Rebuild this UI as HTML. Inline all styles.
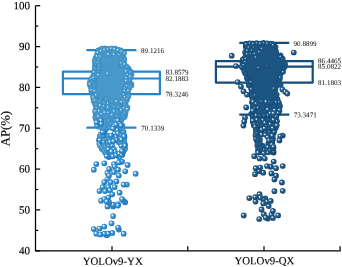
<!DOCTYPE html>
<html><head><meta charset="utf-8"><style>
html,body{margin:0;padding:0;background:#fff;}
svg{display:block;}
</style></head><body>
<svg width="342" height="267" viewBox="0 0 342 267">
<defs>
<radialGradient id="g1" cx="0.44" cy="0.44" r="0.6" fx="0.36" fy="0.36">
<stop offset="0" stop-color="#ffffff"/><stop offset="0.14" stop-color="#eef6fd"/><stop offset="0.34" stop-color="#5ca8de"/><stop offset="0.6" stop-color="#2d8acd"/><stop offset="0.85" stop-color="#2079be"/><stop offset="1" stop-color="#1866a6"/>
</radialGradient>
<radialGradient id="g2" cx="0.44" cy="0.44" r="0.6" fx="0.36" fy="0.36">
<stop offset="0" stop-color="#f4f7fa"/><stop offset="0.14" stop-color="#d5e0ea"/><stop offset="0.34" stop-color="#336b95"/><stop offset="0.6" stop-color="#1b5582"/><stop offset="0.85" stop-color="#144a75"/><stop offset="1" stop-color="#0b3457"/>
</radialGradient>
<radialGradient id="g1e" cx="0.5" cy="0.5" r="0.5" fx="0.42" fy="0.44">
<stop offset="0" stop-color="#eaf4fb"/><stop offset="0.16" stop-color="#b4d6ee"/><stop offset="0.42" stop-color="#4899ca"/><stop offset="0.85" stop-color="#4595c8"/><stop offset="1" stop-color="#3889c1"/>
</radialGradient>
<radialGradient id="g2e" cx="0.5" cy="0.5" r="0.5" fx="0.42" fy="0.44">
<stop offset="0" stop-color="#dce6ee"/><stop offset="0.16" stop-color="#8aa8c2"/><stop offset="0.42" stop-color="#1b5582"/><stop offset="0.85" stop-color="#1a5380"/><stop offset="1" stop-color="#154b76"/>
</radialGradient>
<radialGradient id="g1n" cx="0.5" cy="0.5" r="0.5" fx="0.42" fy="0.44">
<stop offset="0" stop-color="#6cb0dc"/><stop offset="0.42" stop-color="#4899ca"/><stop offset="0.85" stop-color="#4192c7"/><stop offset="1" stop-color="#3385bf"/>
</radialGradient>
<radialGradient id="g2n" cx="0.5" cy="0.5" r="0.5" fx="0.42" fy="0.44">
<stop offset="0" stop-color="#2f6690"/><stop offset="0.42" stop-color="#1b5582"/><stop offset="0.85" stop-color="#19517e"/><stop offset="1" stop-color="#134872"/>
</radialGradient>
<radialGradient id="g2f" cx="0.5" cy="0.5" r="0.5"><stop offset="0" stop-color="#1b5582"/><stop offset="0.8" stop-color="#1b5582"/><stop offset="1" stop-color="#174e79"/></radialGradient>
<radialGradient id="g1f" cx="0.5" cy="0.5" r="0.5"><stop offset="0" stop-color="#4899ca"/><stop offset="0.8" stop-color="#4899ca"/><stop offset="1" stop-color="#3f91c5"/></radialGradient>
</defs><g stroke="#2a83c5" stroke-width="2.2" stroke-linejoin="round" fill="none"><rect x="62.900000000000006" y="71.6" width="97" height="22.6"/><line x1="62.900000000000006" x2="159.9" y1="78.5" y2="78.5"/><line x1="86.4" x2="136.4" y1="50.1" y2="50.1"/><line x1="86.4" x2="136.4" y1="127.7" y2="127.7"/></g><g stroke="#164c7b" stroke-width="2.2" stroke-linejoin="round" fill="none"><rect x="215.9" y="61.1" width="96.8" height="21.5"/><line x1="215.9" x2="312.7" y1="66.6" y2="66.6"/><line x1="239.3" x2="289.3" y1="42.9" y2="42.9"/><line x1="239.3" x2="289.3" y1="114.6" y2="114.6"/></g><polygon points="105.5,46.5 101.5,48.0 98.0,50.0 95.5,53.0 94.5,55.0 93.7,60.0 93.5,65.0 92.9,70.0 92.1,75.0 88.9,80.0 88.1,85.0 89.5,90.0 91.5,95.0 91.3,97.0 92.9,103.0 93.7,108.0 93.7,113.0 93.7,118.0 94.5,123.0 122.9,123.0 125.3,118.0 127.7,113.0 129.5,108.0 126.9,103.0 130.1,97.0 129.3,95.0 130.1,90.0 133.3,85.0 131.5,80.0 133.3,75.0 131.5,70.0 127.5,65.0 126.1,60.0 124.5,55.0 123.5,53.0 122.0,50.0 118.5,48.0 114.5,46.5" fill="#4899ca"/><polygon points="245.0,41.5 244.5,43.0 244.2,45.0 244.5,50.0 244.0,53.0 243.0,55.0 241.1,60.0 240.0,65.0 241.1,70.0 244.0,75.0 246.0,80.0 247.5,85.0 248.5,88.0 249.0,90.0 250.0,95.0 250.5,100.0 251.0,107.0 250.5,112.0 249.8,118.0 251.5,123.0 278.5,123.0 278.7,118.0 280.5,112.0 281.5,107.0 279.5,100.0 278.0,95.0 277.5,90.0 278.5,88.0 282.5,85.0 281.5,80.0 282.0,75.0 286.0,70.0 287.0,65.0 285.5,60.0 282.5,55.0 278.0,53.0 277.7,50.0 277.5,45.0 275.0,43.0 272.5,41.5" fill="#1b5582"/><circle cx="95.7" cy="57.7" r="2.75" fill="url(#g1n)"/><circle cx="131.4" cy="84.2" r="2.75" fill="url(#g1e)"/><circle cx="121.8" cy="52.9" r="2.75" fill="url(#g1e)"/><circle cx="126.5" cy="99.0" r="2.75" fill="url(#g1e)"/><circle cx="120.8" cy="60.3" r="2.75" fill="url(#g1n)"/><circle cx="95.1" cy="66.5" r="2.75" fill="url(#g1e)"/><circle cx="131.5" cy="85.5" r="2.75" fill="url(#g1n)"/><circle cx="125.3" cy="88.4" r="2.75" fill="url(#g1e)"/><circle cx="122.8" cy="105.5" r="2.75" fill="url(#g1n)"/><circle cx="130.9" cy="83.7" r="2.75" fill="url(#g1n)"/><circle cx="124.1" cy="67.6" r="2.75" fill="url(#g1n)"/><circle cx="96.5" cy="109.4" r="2.75" fill="url(#g1e)"/><circle cx="95.4" cy="113.1" r="2.75" fill="url(#g1e)"/><circle cx="126.3" cy="93.9" r="2.75" fill="url(#g1e)"/><circle cx="96.8" cy="99.6" r="2.75" fill="url(#g1n)"/><circle cx="95.8" cy="106.9" r="2.75" fill="url(#g1e)"/><circle cx="93.1" cy="94.5" r="2.75" fill="url(#g1e)"/><circle cx="120.6" cy="116.1" r="2.75" fill="url(#g1n)"/><circle cx="94.9" cy="63.7" r="2.75" fill="url(#g1e)"/><circle cx="95.6" cy="73.0" r="2.75" fill="url(#g1e)"/><circle cx="129.3" cy="88.3" r="2.75" fill="url(#g1e)"/><circle cx="96.6" cy="107.5" r="2.75" fill="url(#g1e)"/><circle cx="125.0" cy="102.5" r="2.75" fill="url(#g1n)"/><circle cx="127.2" cy="85.7" r="2.75" fill="url(#g1e)"/><circle cx="91.2" cy="91.1" r="2.75" fill="url(#g1n)"/><circle cx="94.3" cy="101.0" r="2.75" fill="url(#g1e)"/><circle cx="98.7" cy="112.5" r="2.75" fill="url(#g1e)"/><circle cx="125.9" cy="109.6" r="2.75" fill="url(#g1e)"/><circle cx="123.4" cy="61.7" r="2.75" fill="url(#g1n)"/><circle cx="125.9" cy="109.6" r="2.75" fill="url(#g1e)"/><circle cx="123.7" cy="61.6" r="2.75" fill="url(#g1e)"/><circle cx="95.7" cy="104.1" r="2.75" fill="url(#g1e)"/><circle cx="98.3" cy="50.2" r="2.75" fill="url(#g1e)"/><circle cx="126.7" cy="100.5" r="2.75" fill="url(#g1n)"/><circle cx="125.5" cy="112.8" r="2.75" fill="url(#g1e)"/><circle cx="124.9" cy="116.1" r="2.75" fill="url(#g1e)"/><circle cx="89.6" cy="84.6" r="2.75" fill="url(#g1e)"/><circle cx="123.4" cy="99.3" r="2.75" fill="url(#g1e)"/><circle cx="99.9" cy="50.3" r="2.75" fill="url(#g1e)"/><circle cx="128.8" cy="68.8" r="2.75" fill="url(#g1n)"/><circle cx="125.1" cy="114.5" r="2.75" fill="url(#g1e)"/><circle cx="97.0" cy="54.7" r="2.75" fill="url(#g1n)"/><circle cx="114.8" cy="48.4" r="2.75" fill="url(#g1e)"/><circle cx="95.0" cy="70.4" r="2.75" fill="url(#g1e)"/><circle cx="96.4" cy="119.5" r="2.75" fill="url(#g1e)"/><circle cx="96.8" cy="115.2" r="2.75" fill="url(#g1n)"/><circle cx="96.0" cy="69.1" r="2.75" fill="url(#g1n)"/><circle cx="123.0" cy="58.0" r="2.75" fill="url(#g1e)"/><circle cx="118.1" cy="50.0" r="2.75" fill="url(#g1n)"/><circle cx="93.3" cy="75.4" r="2.75" fill="url(#g1e)"/><circle cx="124.7" cy="90.9" r="2.75" fill="url(#g1e)"/><circle cx="93.9" cy="93.7" r="2.75" fill="url(#g1n)"/><circle cx="98.7" cy="52.7" r="2.75" fill="url(#g1e)"/><circle cx="123.9" cy="64.8" r="2.75" fill="url(#g1e)"/><circle cx="128.3" cy="69.7" r="2.75" fill="url(#g1n)"/><circle cx="111.3" cy="52.1" r="2.75" fill="url(#g1n)"/><circle cx="94.7" cy="97.6" r="2.75" fill="url(#g1e)"/><circle cx="95.0" cy="60.5" r="2.75" fill="url(#g1e)"/><circle cx="123.3" cy="55.8" r="2.75" fill="url(#g1e)"/><circle cx="96.3" cy="64.5" r="2.75" fill="url(#g1e)"/><circle cx="100.2" cy="51.4" r="2.75" fill="url(#g1e)"/><circle cx="93.2" cy="96.2" r="2.75" fill="url(#g1e)"/><circle cx="124.3" cy="116.7" r="2.75" fill="url(#g1e)"/><circle cx="90.5" cy="86.5" r="2.75" fill="url(#g1e)"/><circle cx="129.0" cy="77.5" r="2.75" fill="url(#g1e)"/><circle cx="98.5" cy="71.1" r="2.75" fill="url(#g1n)"/><circle cx="131.6" cy="74.8" r="2.75" fill="url(#g1e)"/><circle cx="91.0" cy="87.6" r="2.75" fill="url(#g1e)"/><circle cx="128.4" cy="96.2" r="2.75" fill="url(#g1e)"/><circle cx="96.7" cy="57.5" r="2.75" fill="url(#g1e)"/><circle cx="126.3" cy="94.1" r="2.75" fill="url(#g1e)"/><circle cx="91.4" cy="82.9" r="2.75" fill="url(#g1e)"/><circle cx="96.5" cy="119.6" r="2.75" fill="url(#g1e)"/><circle cx="123.7" cy="94.6" r="2.75" fill="url(#g1e)"/><circle cx="94.8" cy="66.9" r="2.75" fill="url(#g1e)"/><circle cx="116.2" cy="52.5" r="2.75" fill="url(#g1e)"/><circle cx="92.0" cy="77.9" r="2.75" fill="url(#g1n)"/><circle cx="95.4" cy="58.9" r="2.75" fill="url(#g1n)"/><circle cx="105.0" cy="53.7" r="2.75" fill="url(#g1e)"/><circle cx="93.5" cy="101.0" r="2.75" fill="url(#g1e)"/><circle cx="130.0" cy="86.8" r="2.75" fill="url(#g1n)"/><circle cx="92.3" cy="91.1" r="2.75" fill="url(#g1e)"/><circle cx="121.4" cy="119.7" r="2.75" fill="url(#g1e)"/><circle cx="125.7" cy="105.0" r="2.75" fill="url(#g1e)"/><circle cx="96.3" cy="77.6" r="2.75" fill="url(#g1n)"/><circle cx="92.8" cy="88.2" r="2.75" fill="url(#g1e)"/><circle cx="127.6" cy="91.9" r="2.75" fill="url(#g1n)"/><circle cx="128.2" cy="91.0" r="2.75" fill="url(#g1e)"/><circle cx="128.4" cy="70.4" r="2.75" fill="url(#g1e)"/><circle cx="125.0" cy="97.1" r="2.75" fill="url(#g1e)"/><circle cx="121.7" cy="119.2" r="2.75" fill="url(#g1n)"/><circle cx="110.0" cy="50.9" r="2.75" fill="url(#g1e)"/><circle cx="123.8" cy="58.4" r="2.75" fill="url(#g1n)"/><circle cx="94.7" cy="103.4" r="2.75" fill="url(#g1e)"/><circle cx="124.3" cy="58.9" r="2.75" fill="url(#g1n)"/><circle cx="130.3" cy="74.0" r="2.75" fill="url(#g1n)"/><circle cx="121.5" cy="57.7" r="2.75" fill="url(#g1e)"/><circle cx="130.9" cy="71.8" r="2.75" fill="url(#g1e)"/><circle cx="125.5" cy="112.4" r="2.75" fill="url(#g1e)"/><circle cx="89.8" cy="81.9" r="2.75" fill="url(#g1e)"/><circle cx="121.1" cy="63.4" r="2.75" fill="url(#g1e)"/><circle cx="126.9" cy="67.4" r="2.75" fill="url(#g1e)"/><circle cx="98.6" cy="58.7" r="2.75" fill="url(#g1e)"/><circle cx="130.6" cy="78.1" r="2.75" fill="url(#g1e)"/><circle cx="99.5" cy="63.4" r="2.75" fill="url(#g1n)"/><circle cx="107.5" cy="73.4" r="2.75" fill="url(#g1e)"/><circle cx="127.4" cy="98.5" r="2.75" fill="url(#g1e)"/><circle cx="96.9" cy="114.8" r="2.75" fill="url(#g1n)"/><circle cx="128.9" cy="83.1" r="2.75" fill="url(#g1e)"/><circle cx="95.9" cy="94.9" r="2.75" fill="url(#g1e)"/><circle cx="113.7" cy="51.0" r="2.75" fill="url(#g1e)"/><circle cx="125.2" cy="102.3" r="2.75" fill="url(#g1e)"/><circle cx="95.2" cy="117.3" r="2.75" fill="url(#g1n)"/><circle cx="105.1" cy="51.1" r="2.75" fill="url(#g1e)"/><circle cx="122.1" cy="55.4" r="2.75" fill="url(#g1e)"/><circle cx="120.3" cy="122.3" r="2.75" fill="url(#g1e)"/><circle cx="99.6" cy="115.3" r="2.75" fill="url(#g1e)"/><circle cx="126.4" cy="77.9" r="2.75" fill="url(#g1e)"/><circle cx="122.5" cy="102.9" r="2.75" fill="url(#g1e)"/><circle cx="94.6" cy="79.7" r="2.75" fill="url(#g1e)"/><circle cx="109.2" cy="49.8" r="2.75" fill="url(#g1e)"/><circle cx="98.1" cy="74.8" r="2.75" fill="url(#g1e)"/><circle cx="127.4" cy="74.4" r="2.75" fill="url(#g1e)"/><circle cx="122.2" cy="65.7" r="2.75" fill="url(#g1n)"/><circle cx="95.6" cy="112.0" r="2.75" fill="url(#g1e)"/><circle cx="94.2" cy="85.7" r="2.75" fill="url(#g1n)"/><circle cx="98.2" cy="54.4" r="2.75" fill="url(#g1e)"/><circle cx="93.8" cy="78.9" r="2.75" fill="url(#g1n)"/><circle cx="113.8" cy="54.4" r="2.75" fill="url(#g1e)"/><circle cx="120.8" cy="50.3" r="2.75" fill="url(#g1n)"/><circle cx="129.4" cy="81.4" r="2.75" fill="url(#g1n)"/><circle cx="119.0" cy="54.3" r="2.75" fill="url(#g1e)"/><circle cx="101.3" cy="49.0" r="2.75" fill="url(#g1n)"/><circle cx="100.1" cy="56.2" r="2.75" fill="url(#g1e)"/><circle cx="91.2" cy="79.0" r="2.75" fill="url(#g1e)"/><circle cx="98.9" cy="104.9" r="2.75" fill="url(#g1e)"/><circle cx="94.2" cy="82.8" r="2.75" fill="url(#g1n)"/><circle cx="116.1" cy="49.0" r="2.75" fill="url(#g1e)"/><circle cx="122.4" cy="113.9" r="2.75" fill="url(#g1n)"/><circle cx="99.2" cy="121.1" r="2.75" fill="url(#g1e)"/><circle cx="128.3" cy="95.9" r="2.75" fill="url(#g1n)"/><circle cx="108.6" cy="49.9" r="2.75" fill="url(#g1e)"/><circle cx="97.6" cy="62.2" r="2.75" fill="url(#g1e)"/><circle cx="104.0" cy="49.0" r="2.75" fill="url(#g1e)"/><circle cx="126.0" cy="71.0" r="2.75" fill="url(#g1e)"/><circle cx="124.4" cy="117.3" r="2.75" fill="url(#g1n)"/><circle cx="98.8" cy="67.9" r="2.75" fill="url(#g1e)"/><circle cx="96.3" cy="120.4" r="2.75" fill="url(#g1n)"/><circle cx="99.1" cy="65.3" r="2.75" fill="url(#g1n)"/><circle cx="94.7" cy="60.9" r="2.75" fill="url(#g1n)"/><circle cx="91.6" cy="82.1" r="2.75" fill="url(#g1n)"/><circle cx="93.9" cy="72.0" r="2.75" fill="url(#g1e)"/><circle cx="93.7" cy="76.6" r="2.75" fill="url(#g1e)"/><circle cx="130.2" cy="76.4" r="2.75" fill="url(#g1e)"/><circle cx="93.5" cy="77.6" r="2.75" fill="url(#g1e)"/><circle cx="124.5" cy="64.2" r="2.75" fill="url(#g1e)"/><circle cx="102.2" cy="48.6" r="2.75" fill="url(#g1e)"/><circle cx="126.9" cy="66.7" r="2.75" fill="url(#g1n)"/><circle cx="127.5" cy="107.6" r="2.75" fill="url(#g1e)"/><circle cx="94.9" cy="68.3" r="2.75" fill="url(#g1n)"/><circle cx="123.2" cy="111.1" r="2.75" fill="url(#g1n)"/><circle cx="99.4" cy="109.6" r="2.75" fill="url(#g1n)"/><circle cx="89.7" cy="84.0" r="2.75" fill="url(#g1e)"/><circle cx="118.0" cy="49.9" r="2.75" fill="url(#g1e)"/><circle cx="91.6" cy="90.0" r="2.75" fill="url(#g1e)"/><circle cx="96.4" cy="111.7" r="2.75" fill="url(#g1n)"/><circle cx="96.0" cy="117.3" r="2.75" fill="url(#g1n)"/><circle cx="120.1" cy="51.4" r="2.75" fill="url(#g1e)"/><circle cx="96.9" cy="56.1" r="2.75" fill="url(#g1e)"/><circle cx="94.4" cy="90.7" r="2.75" fill="url(#g1e)"/><circle cx="122.3" cy="53.4" r="2.75" fill="url(#g1e)"/><circle cx="96.7" cy="110.4" r="2.75" fill="url(#g1e)"/><circle cx="125.0" cy="104.9" r="2.75" fill="url(#g1e)"/><circle cx="112.1" cy="48.4" r="2.75" fill="url(#g1n)"/><circle cx="99.4" cy="118.3" r="2.75" fill="url(#g1e)"/><circle cx="130.2" cy="72.0" r="2.75" fill="url(#g1n)"/><circle cx="104.7" cy="48.2" r="2.75" fill="url(#g1e)"/><circle cx="118.2" cy="120.6" r="2.75" fill="url(#g1e)"/><circle cx="95.7" cy="104.3" r="2.75" fill="url(#g1e)"/><circle cx="102.3" cy="52.5" r="2.75" fill="url(#g1e)"/><circle cx="126.8" cy="107.9" r="2.75" fill="url(#g1e)"/><circle cx="123.7" cy="108.1" r="2.75" fill="url(#g1e)"/><circle cx="129.3" cy="80.3" r="2.75" fill="url(#g1n)"/><circle cx="93.0" cy="97.4" r="2.75" fill="url(#g1e)"/><circle cx="125.9" cy="80.7" r="2.75" fill="url(#g1e)"/><circle cx="128.3" cy="90.6" r="2.75" fill="url(#g1e)"/><circle cx="108.2" cy="54.0" r="2.75" fill="url(#g1e)"/><circle cx="98.1" cy="101.9" r="2.75" fill="url(#g1e)"/><circle cx="120.9" cy="109.8" r="2.75" fill="url(#g1e)"/><circle cx="121.4" cy="101.9" r="2.75" fill="url(#g1e)"/><circle cx="123.1" cy="116.1" r="2.75" fill="url(#g1n)"/><circle cx="107.7" cy="103.4" r="2.75" fill="url(#g1e)"/><circle cx="95.0" cy="111.0" r="2.75" fill="url(#g1e)"/><circle cx="124.6" cy="102.0" r="2.75" fill="url(#g1n)"/><circle cx="116.8" cy="115.9" r="2.75" fill="url(#g1n)"/><circle cx="117.3" cy="111.7" r="2.75" fill="url(#g1n)"/><circle cx="94.5" cy="100.2" r="2.75" fill="url(#g1e)"/><circle cx="118.0" cy="107.0" r="2.75" fill="url(#g1n)"/><circle cx="107.8" cy="112.6" r="2.75" fill="url(#g1e)"/><circle cx="124.2" cy="112.9" r="2.75" fill="url(#g1n)"/><circle cx="101.3" cy="113.8" r="2.75" fill="url(#g1e)"/><circle cx="106.2" cy="98.7" r="2.75" fill="url(#g1n)"/><circle cx="113.9" cy="111.1" r="2.75" fill="url(#g1e)"/><circle cx="96.1" cy="104.2" r="2.75" fill="url(#g1n)"/><circle cx="127.1" cy="108.9" r="2.75" fill="url(#g1e)"/><circle cx="100.2" cy="100.9" r="2.75" fill="url(#g1n)"/><circle cx="111.8" cy="114.7" r="2.75" fill="url(#g1e)"/><circle cx="103.5" cy="106.1" r="2.75" fill="url(#g1e)"/><circle cx="112.0" cy="101.2" r="2.75" fill="url(#g1n)"/><circle cx="98.2" cy="116.3" r="2.75" fill="url(#g1e)"/><circle cx="107.8" cy="107.2" r="2.75" fill="url(#g1e)"/><circle cx="116.4" cy="101.1" r="2.75" fill="url(#g1e)"/><circle cx="102.1" cy="109.2" r="2.75" fill="url(#g1n)"/><circle cx="104.0" cy="102.3" r="2.75" fill="url(#g1n)"/><circle cx="113.9" cy="106.7" r="2.75" fill="url(#g1n)"/><circle cx="104.4" cy="112.3" r="2.75" fill="url(#g1e)"/><circle cx="98.9" cy="110.8" r="2.75" fill="url(#g1e)"/><circle cx="99.9" cy="105.2" r="2.75" fill="url(#g1e)"/><circle cx="278.9" cy="104.1" r="2.75" fill="url(#g2f)"/><circle cx="275.6" cy="47.2" r="2.75" fill="url(#g2f)"/><circle cx="280.6" cy="55.3" r="2.75" fill="url(#g2f)"/><circle cx="278.3" cy="102.3" r="2.75" fill="url(#g2f)"/><circle cx="280.7" cy="84.9" r="2.75" fill="url(#g2f)"/><circle cx="275.4" cy="118.4" r="2.75" fill="url(#g2e)"/><circle cx="283.3" cy="61.5" r="2.75" fill="url(#g2f)"/><circle cx="275.8" cy="50.8" r="2.75" fill="url(#g2f)"/><circle cx="275.8" cy="96.3" r="2.75" fill="url(#g2f)"/><circle cx="280.9" cy="72.6" r="2.75" fill="url(#g2f)"/><circle cx="280.3" cy="74.7" r="2.75" fill="url(#g2f)"/><circle cx="278.5" cy="82.6" r="2.75" fill="url(#g2f)"/><circle cx="278.4" cy="111.1" r="2.75" fill="url(#g2f)"/><circle cx="279.8" cy="79.2" r="2.75" fill="url(#g2f)"/><circle cx="275.4" cy="90.8" r="2.75" fill="url(#g2f)"/><circle cx="284.6" cy="67.2" r="2.75" fill="url(#g2f)"/><circle cx="279.0" cy="108.4" r="2.75" fill="url(#g2f)"/><circle cx="282.8" cy="69.1" r="2.75" fill="url(#g2f)"/><circle cx="277.7" cy="100.6" r="2.75" fill="url(#g2f)"/><circle cx="274.3" cy="47.6" r="2.75" fill="url(#g2f)"/><circle cx="276.8" cy="94.4" r="2.75" fill="url(#g2f)"/><circle cx="278.8" cy="83.4" r="2.75" fill="url(#g2f)"/><circle cx="276.7" cy="120.8" r="2.75" fill="url(#g2e)"/><circle cx="276.4" cy="115.5" r="2.75" fill="url(#g2e)"/><circle cx="284.7" cy="63.1" r="2.75" fill="url(#g2e)"/><circle cx="280.0" cy="77.4" r="2.75" fill="url(#g2e)"/><circle cx="275.6" cy="87.5" r="2.75" fill="url(#g2f)"/><circle cx="282.7" cy="58.5" r="2.75" fill="url(#g2e)"/><circle cx="274.2" cy="91.4" r="2.75" fill="url(#g2f)"/><circle cx="277.4" cy="98.8" r="2.75" fill="url(#g2f)"/><circle cx="280.5" cy="56.7" r="2.75" fill="url(#g2e)"/><circle cx="274.1" cy="45.0" r="2.75" fill="url(#g2f)"/><circle cx="283.1" cy="71.9" r="2.75" fill="url(#g2e)"/><circle cx="279.9" cy="106.7" r="2.75" fill="url(#g2f)"/><circle cx="276.2" cy="52.3" r="2.75" fill="url(#g2f)"/><circle cx="273.0" cy="44.0" r="2.75" fill="url(#g2f)"/><circle cx="278.8" cy="111.9" r="2.75" fill="url(#g2f)"/><circle cx="285.2" cy="64.4" r="2.75" fill="url(#g2f)"/><circle cx="248.0" cy="79.5" r="2.75" fill="url(#g2e)"/><circle cx="254.0" cy="103.6" r="2.75" fill="url(#g2e)"/><circle cx="273.6" cy="88.3" r="2.75" fill="url(#g2e)"/><circle cx="251.9" cy="96.8" r="2.75" fill="url(#g2n)"/><circle cx="253.9" cy="45.6" r="2.75" fill="url(#g2e)"/><circle cx="248.9" cy="81.0" r="2.75" fill="url(#g2n)"/><circle cx="251.8" cy="48.4" r="2.75" fill="url(#g2e)"/><circle cx="244.3" cy="71.4" r="2.75" fill="url(#g2e)"/><circle cx="248.5" cy="83.3" r="2.75" fill="url(#g2e)"/><circle cx="251.5" cy="90.6" r="2.75" fill="url(#g2e)"/><circle cx="254.5" cy="95.1" r="2.75" fill="url(#g2e)"/><circle cx="259.7" cy="46.5" r="2.75" fill="url(#g2n)"/><circle cx="250.7" cy="81.8" r="2.75" fill="url(#g2e)"/><circle cx="266.6" cy="65.9" r="2.75" fill="url(#g2n)"/><circle cx="242.1" cy="61.7" r="2.75" fill="url(#g2e)"/><circle cx="247.2" cy="45.8" r="2.75" fill="url(#g2n)"/><circle cx="253.5" cy="113.2" r="2.75" fill="url(#g2n)"/><circle cx="252.9" cy="100.0" r="2.75" fill="url(#g2e)"/><circle cx="251.2" cy="113.8" r="2.75" fill="url(#g2n)"/><circle cx="245.8" cy="51.3" r="2.75" fill="url(#g2e)"/><circle cx="247.6" cy="77.2" r="2.75" fill="url(#g2e)"/><circle cx="251.8" cy="44.2" r="2.75" fill="url(#g2e)"/><circle cx="251.1" cy="93.9" r="2.75" fill="url(#g2n)"/><circle cx="250.1" cy="53.4" r="2.75" fill="url(#g2e)"/><circle cx="246.4" cy="44.3" r="2.75" fill="url(#g2n)"/><circle cx="246.6" cy="44.2" r="2.75" fill="url(#g2e)"/><circle cx="253.6" cy="47.2" r="2.75" fill="url(#g2e)"/><circle cx="259.6" cy="43.8" r="2.75" fill="url(#g2n)"/><circle cx="252.9" cy="108.4" r="2.75" fill="url(#g2e)"/><circle cx="259.8" cy="48.0" r="2.75" fill="url(#g2e)"/><circle cx="246.2" cy="55.5" r="2.75" fill="url(#g2e)"/><circle cx="254.4" cy="112.8" r="2.75" fill="url(#g2e)"/><circle cx="247.1" cy="77.5" r="2.75" fill="url(#g2e)"/><circle cx="251.8" cy="102.4" r="2.75" fill="url(#g2n)"/><circle cx="242.8" cy="60.0" r="2.75" fill="url(#g2n)"/><circle cx="246.1" cy="47.6" r="2.75" fill="url(#g2n)"/><circle cx="251.6" cy="50.1" r="2.75" fill="url(#g2e)"/><circle cx="243.7" cy="62.2" r="2.75" fill="url(#g2n)"/><circle cx="256.6" cy="46.9" r="2.75" fill="url(#g2n)"/><circle cx="252.7" cy="121.9" r="2.75" fill="url(#g2e)"/><circle cx="247.9" cy="50.5" r="2.75" fill="url(#g2e)"/><circle cx="256.3" cy="45.5" r="2.75" fill="url(#g2n)"/><circle cx="242.8" cy="59.3" r="2.75" fill="url(#g2e)"/><circle cx="253.1" cy="116.9" r="2.75" fill="url(#g2e)"/><circle cx="251.7" cy="87.1" r="2.75" fill="url(#g2e)"/><circle cx="261.7" cy="48.6" r="2.75" fill="url(#g2e)"/><circle cx="242.6" cy="67.9" r="2.75" fill="url(#g2e)"/><circle cx="250.9" cy="86.7" r="2.75" fill="url(#g2n)"/><circle cx="253.4" cy="104.3" r="2.75" fill="url(#g2n)"/><circle cx="256.1" cy="50.4" r="2.75" fill="url(#g2n)"/><circle cx="258.3" cy="67.7" r="2.75" fill="url(#g2e)"/><circle cx="254.0" cy="107.2" r="2.75" fill="url(#g2n)"/><circle cx="253.2" cy="119.5" r="2.75" fill="url(#g2e)"/><circle cx="250.1" cy="46.7" r="2.75" fill="url(#g2n)"/><circle cx="251.2" cy="88.9" r="2.75" fill="url(#g2e)"/><circle cx="246.9" cy="78.5" r="2.75" fill="url(#g2n)"/><circle cx="245.7" cy="46.5" r="2.75" fill="url(#g2e)"/><circle cx="242.7" cy="65.5" r="2.75" fill="url(#g2e)"/><circle cx="241.5" cy="66.8" r="2.75" fill="url(#g2e)"/><circle cx="248.7" cy="85.5" r="2.75" fill="url(#g2n)"/><circle cx="252.4" cy="99.3" r="2.75" fill="url(#g2e)"/><circle cx="245.2" cy="61.8" r="2.75" fill="url(#g2e)"/><circle cx="246.7" cy="48.2" r="2.75" fill="url(#g2n)"/><circle cx="245.8" cy="44.0" r="2.75" fill="url(#g2n)"/><circle cx="253.1" cy="112.3" r="2.75" fill="url(#g2e)"/><circle cx="259.2" cy="51.8" r="2.75" fill="url(#g2e)"/><circle cx="245.1" cy="73.4" r="2.75" fill="url(#g2n)"/><circle cx="245.0" cy="52.4" r="2.75" fill="url(#g2n)"/><circle cx="243.4" cy="64.8" r="2.75" fill="url(#g2e)"/><circle cx="253.3" cy="117.4" r="2.75" fill="url(#g2e)"/><circle cx="253.4" cy="108.4" r="2.75" fill="url(#g2e)"/><circle cx="248.5" cy="47.1" r="2.75" fill="url(#g2e)"/><circle cx="254.6" cy="53.6" r="2.75" fill="url(#g2e)"/><circle cx="245.6" cy="56.9" r="2.75" fill="url(#g2e)"/><circle cx="252.9" cy="106.5" r="2.75" fill="url(#g2e)"/><circle cx="253.7" cy="120.2" r="2.75" fill="url(#g2e)"/><circle cx="251.9" cy="43.4" r="2.75" fill="url(#g2e)"/><circle cx="246.9" cy="53.9" r="2.75" fill="url(#g2e)"/><circle cx="247.2" cy="50.4" r="2.75" fill="url(#g2e)"/><circle cx="255.6" cy="57.2" r="2.75" fill="url(#g2e)"/><circle cx="251.8" cy="96.2" r="2.75" fill="url(#g2n)"/><circle cx="245.5" cy="58.6" r="2.75" fill="url(#g2e)"/><circle cx="271.4" cy="110.1" r="2.75" fill="url(#g2)"/><circle cx="261.0" cy="102.0" r="2.75" fill="url(#g2)"/><circle cx="269.8" cy="107.4" r="2.75" fill="url(#g2n)"/><circle cx="277.6" cy="107.8" r="2.75" fill="url(#g2n)"/><circle cx="279.5" cy="110.4" r="2.75" fill="url(#g2)"/><circle cx="278.1" cy="113.1" r="2.75" fill="url(#g2)"/><circle cx="278.8" cy="102.6" r="2.75" fill="url(#g2)"/><circle cx="257.9" cy="101.7" r="2.75" fill="url(#g2n)"/><circle cx="253.1" cy="101.9" r="2.75" fill="url(#g2)"/><circle cx="263.6" cy="105.0" r="2.75" fill="url(#g2n)"/><circle cx="259.0" cy="115.8" r="2.75" fill="url(#g2)"/><circle cx="267.6" cy="109.6" r="2.75" fill="url(#g2)"/><circle cx="275.7" cy="102.5" r="2.75" fill="url(#g2)"/><circle cx="256.1" cy="112.2" r="2.75" fill="url(#g2n)"/><circle cx="254.7" cy="107.6" r="2.75" fill="url(#g2)"/><circle cx="258.2" cy="107.6" r="2.75" fill="url(#g2)"/><circle cx="266.6" cy="105.1" r="2.75" fill="url(#g2n)"/><circle cx="272.1" cy="116.1" r="2.75" fill="url(#g2n)"/><circle cx="269.2" cy="102.5" r="2.75" fill="url(#g2)"/><circle cx="276.1" cy="116.3" r="2.75" fill="url(#g2)"/><circle cx="274.7" cy="110.3" r="2.75" fill="url(#g2)"/><circle cx="259.2" cy="110.4" r="2.75" fill="url(#g2n)"/><circle cx="252.7" cy="110.7" r="2.75" fill="url(#g2)"/><circle cx="256.0" cy="104.0" r="2.75" fill="url(#g2)"/><circle cx="267.7" cy="115.3" r="2.75" fill="url(#g2)"/><circle cx="270.3" cy="113.3" r="2.75" fill="url(#g2)"/><circle cx="266.1" cy="101.8" r="2.75" fill="url(#g2)"/><circle cx="273.5" cy="113.5" r="2.75" fill="url(#g2)"/><circle cx="252.8" cy="105.0" r="2.75" fill="url(#g2n)"/><circle cx="264.2" cy="115.1" r="2.75" fill="url(#g2)"/><circle cx="259.9" cy="105.1" r="2.75" fill="url(#g2n)"/><circle cx="272.5" cy="102.4" r="2.75" fill="url(#g2n)"/><circle cx="274.4" cy="106.1" r="2.75" fill="url(#g2n)"/><circle cx="279.8" cy="105.6" r="2.75" fill="url(#g2n)"/><circle cx="256.0" cy="115.5" r="2.75" fill="url(#g2)"/><circle cx="262.5" cy="108.2" r="2.75" fill="url(#g2n)"/><circle cx="264.9" cy="111.9" r="2.75" fill="url(#g2n)"/><circle cx="252.4" cy="116.1" r="2.75" fill="url(#g2n)"/><circle cx="261.7" cy="112.4" r="2.75" fill="url(#g2n)"/><circle cx="108.7" cy="145.3" r="2.75" fill="url(#g1)"/><circle cx="105.9" cy="129.4" r="2.75" fill="url(#g1)"/><circle cx="122.4" cy="130.6" r="2.75" fill="url(#g1)"/><circle cx="125.1" cy="144.6" r="2.75" fill="url(#g1n)"/><circle cx="118.9" cy="157.3" r="2.75" fill="url(#g1)"/><circle cx="120.2" cy="127.8" r="2.75" fill="url(#g1)"/><circle cx="117.3" cy="130.1" r="2.75" fill="url(#g1)"/><circle cx="105.9" cy="138.8" r="2.75" fill="url(#g1n)"/><circle cx="106.8" cy="142.6" r="2.75" fill="url(#g1n)"/><circle cx="109.5" cy="138.8" r="2.75" fill="url(#g1n)"/><circle cx="114.0" cy="148.9" r="2.75" fill="url(#g1)"/><circle cx="121.2" cy="145.8" r="2.75" fill="url(#g1)"/><circle cx="104.6" cy="122.2" r="2.75" fill="url(#g1n)"/><circle cx="123.6" cy="132.1" r="2.75" fill="url(#g1)"/><circle cx="98.8" cy="140.0" r="2.75" fill="url(#g1)"/><circle cx="99.6" cy="126.3" r="2.75" fill="url(#g1n)"/><circle cx="122.5" cy="125.5" r="2.75" fill="url(#g1n)"/><circle cx="103.4" cy="142.4" r="2.75" fill="url(#g1)"/><circle cx="102.7" cy="129.2" r="2.75" fill="url(#g1)"/><circle cx="107.3" cy="124.5" r="2.75" fill="url(#g1n)"/><circle cx="124.6" cy="137.1" r="2.75" fill="url(#g1n)"/><circle cx="114.6" cy="120.3" r="2.75" fill="url(#g1n)"/><circle cx="124.0" cy="138.7" r="2.75" fill="url(#g1)"/><circle cx="124.3" cy="141.5" r="2.75" fill="url(#g1)"/><circle cx="99.1" cy="127.0" r="2.75" fill="url(#g1n)"/><circle cx="122.3" cy="155.1" r="2.75" fill="url(#g1)"/><circle cx="99.8" cy="136.5" r="2.75" fill="url(#g1n)"/><circle cx="113.1" cy="137.9" r="2.75" fill="url(#g1)"/><circle cx="119.7" cy="156.9" r="2.75" fill="url(#g1n)"/><circle cx="121.0" cy="120.8" r="2.75" fill="url(#g1n)"/><circle cx="97.0" cy="125.5" r="2.75" fill="url(#g1)"/><circle cx="112.0" cy="145.6" r="2.75" fill="url(#g1)"/><circle cx="110.5" cy="123.5" r="2.75" fill="url(#g1n)"/><circle cx="101.7" cy="149.0" r="2.75" fill="url(#g1)"/><circle cx="109.5" cy="157.0" r="2.75" fill="url(#g1)"/><circle cx="101.1" cy="120.5" r="2.75" fill="url(#g1)"/><circle cx="124.1" cy="141.2" r="2.75" fill="url(#g1n)"/><circle cx="103.4" cy="129.2" r="2.75" fill="url(#g1n)"/><circle cx="112.8" cy="156.4" r="2.75" fill="url(#g1)"/><circle cx="100.0" cy="143.5" r="2.75" fill="url(#g1n)"/><circle cx="117.8" cy="120.6" r="2.75" fill="url(#g1)"/><circle cx="115.0" cy="151.9" r="2.75" fill="url(#g1)"/><circle cx="121.4" cy="139.6" r="2.75" fill="url(#g1)"/><circle cx="104.0" cy="125.7" r="2.75" fill="url(#g1n)"/><circle cx="122.6" cy="129.1" r="2.75" fill="url(#g1n)"/><circle cx="116.0" cy="155.2" r="2.75" fill="url(#g1)"/><circle cx="107.2" cy="154.5" r="2.75" fill="url(#g1)"/><circle cx="119.3" cy="153.6" r="2.75" fill="url(#g1)"/><circle cx="99.5" cy="139.1" r="2.75" fill="url(#g1)"/><circle cx="124.5" cy="149.8" r="2.75" fill="url(#g1n)"/><circle cx="101.3" cy="123.8" r="2.75" fill="url(#g1)"/><circle cx="107.8" cy="135.5" r="2.75" fill="url(#g1n)"/><circle cx="124.1" cy="135.2" r="2.75" fill="url(#g1)"/><circle cx="99.2" cy="143.5" r="2.75" fill="url(#g1)"/><circle cx="121.5" cy="127.3" r="2.75" fill="url(#g1n)"/><circle cx="124.5" cy="145.4" r="2.75" fill="url(#g1)"/><circle cx="121.8" cy="154.8" r="2.75" fill="url(#g1)"/><circle cx="104.3" cy="132.2" r="2.75" fill="url(#g1)"/><circle cx="125.3" cy="148.8" r="2.75" fill="url(#g1n)"/><circle cx="114.6" cy="133.5" r="2.75" fill="url(#g1)"/><circle cx="108.3" cy="149.2" r="2.75" fill="url(#g1)"/><circle cx="116.1" cy="136.6" r="2.75" fill="url(#g1)"/><circle cx="109.4" cy="127.6" r="2.75" fill="url(#g1n)"/><circle cx="103.1" cy="135.8" r="2.75" fill="url(#g1)"/><circle cx="100.6" cy="134.3" r="2.75" fill="url(#g1)"/><circle cx="100.3" cy="136.2" r="2.75" fill="url(#g1n)"/><circle cx="111.0" cy="135.4" r="2.75" fill="url(#g1)"/><circle cx="108.4" cy="156.9" r="2.75" fill="url(#g1)"/><circle cx="110.1" cy="142.0" r="2.75" fill="url(#g1)"/><circle cx="105.2" cy="152.9" r="2.75" fill="url(#g1)"/><circle cx="102.6" cy="132.2" r="2.75" fill="url(#g1)"/><circle cx="112.9" cy="128.6" r="2.75" fill="url(#g1)"/><circle cx="108.7" cy="120.3" r="2.75" fill="url(#g1n)"/><circle cx="111.4" cy="151.6" r="2.75" fill="url(#g1)"/><circle cx="125.0" cy="145.7" r="2.75" fill="url(#g1)"/><circle cx="99.9" cy="145.8" r="2.75" fill="url(#g1)"/><circle cx="104.4" cy="145.8" r="2.75" fill="url(#g1n)"/><circle cx="99.8" cy="140.1" r="2.75" fill="url(#g1)"/><circle cx="118.6" cy="142.4" r="2.75" fill="url(#g1n)"/><circle cx="117.9" cy="133.4" r="2.75" fill="url(#g1)"/><circle cx="101.1" cy="147.1" r="2.75" fill="url(#g1n)"/><circle cx="96.6" cy="122.3" r="2.75" fill="url(#g1)"/><circle cx="116.4" cy="139.9" r="2.75" fill="url(#g1)"/><circle cx="113.4" cy="141.3" r="2.75" fill="url(#g1)"/><circle cx="123.3" cy="151.9" r="2.75" fill="url(#g1)"/><circle cx="103.6" cy="150.4" r="2.75" fill="url(#g1n)"/><circle cx="121.1" cy="135.1" r="2.75" fill="url(#g1n)"/><circle cx="119.6" cy="123.9" r="2.75" fill="url(#g1)"/><circle cx="116.2" cy="124.6" r="2.75" fill="url(#g1)"/><circle cx="121.8" cy="150.9" r="2.75" fill="url(#g1)"/><circle cx="121.0" cy="125.5" r="2.75" fill="url(#g1)"/><circle cx="124.1" cy="136.3" r="2.75" fill="url(#g1)"/><circle cx="106.6" cy="156.1" r="2.75" fill="url(#g1)"/><circle cx="273.7" cy="131.3" r="2.75" fill="url(#g2)"/><circle cx="258.3" cy="126.3" r="2.75" fill="url(#g2)"/><circle cx="272.3" cy="152.2" r="2.75" fill="url(#g2)"/><circle cx="272.1" cy="140.6" r="2.75" fill="url(#g2)"/><circle cx="260.1" cy="139.6" r="2.75" fill="url(#g2)"/><circle cx="270.3" cy="134.2" r="2.75" fill="url(#g2)"/><circle cx="277.0" cy="121.4" r="2.75" fill="url(#g2)"/><circle cx="261.3" cy="125.4" r="2.75" fill="url(#g2n)"/><circle cx="266.5" cy="149.9" r="2.75" fill="url(#g2)"/><circle cx="259.0" cy="133.1" r="2.75" fill="url(#g2)"/><circle cx="261.6" cy="134.6" r="2.75" fill="url(#g2)"/><circle cx="268.0" cy="152.6" r="2.75" fill="url(#g2)"/><circle cx="262.8" cy="120.3" r="2.75" fill="url(#g2)"/><circle cx="273.6" cy="133.5" r="2.75" fill="url(#g2)"/><circle cx="257.9" cy="150.8" r="2.75" fill="url(#g2)"/><circle cx="255.5" cy="135.7" r="2.75" fill="url(#g2)"/><circle cx="255.5" cy="135.0" r="2.75" fill="url(#g2)"/><circle cx="253.7" cy="125.5" r="2.75" fill="url(#g2n)"/><circle cx="257.0" cy="129.1" r="2.75" fill="url(#g2)"/><circle cx="265.3" cy="131.3" r="2.75" fill="url(#g2)"/><circle cx="256.9" cy="119.9" r="2.75" fill="url(#g2)"/><circle cx="263.0" cy="145.8" r="2.75" fill="url(#g2n)"/><circle cx="258.3" cy="146.5" r="2.75" fill="url(#g2)"/><circle cx="275.7" cy="128.3" r="2.75" fill="url(#g2n)"/><circle cx="273.6" cy="152.7" r="2.75" fill="url(#g2)"/><circle cx="269.2" cy="131.3" r="2.75" fill="url(#g2)"/><circle cx="273.5" cy="151.6" r="2.75" fill="url(#g2)"/><circle cx="260.5" cy="152.3" r="2.75" fill="url(#g2n)"/><circle cx="268.3" cy="143.4" r="2.75" fill="url(#g2n)"/><circle cx="257.7" cy="137.0" r="2.75" fill="url(#g2n)"/><circle cx="254.3" cy="123.8" r="2.75" fill="url(#g2)"/><circle cx="270.3" cy="124.2" r="2.75" fill="url(#g2)"/><circle cx="275.4" cy="126.8" r="2.75" fill="url(#g2n)"/><circle cx="272.4" cy="142.9" r="2.75" fill="url(#g2n)"/><circle cx="257.2" cy="145.5" r="2.75" fill="url(#g2)"/><circle cx="260.1" cy="143.6" r="2.75" fill="url(#g2)"/><circle cx="273.5" cy="124.4" r="2.75" fill="url(#g2n)"/><circle cx="259.5" cy="121.4" r="2.75" fill="url(#g2n)"/><circle cx="252.8" cy="120.7" r="2.75" fill="url(#g2)"/><circle cx="258.6" cy="151.3" r="2.75" fill="url(#g2)"/><circle cx="257.2" cy="141.9" r="2.75" fill="url(#g2n)"/><circle cx="272.9" cy="139.3" r="2.75" fill="url(#g2)"/><circle cx="255.8" cy="127.0" r="2.75" fill="url(#g2)"/><circle cx="268.4" cy="128.2" r="2.75" fill="url(#g2)"/><circle cx="255.8" cy="132.0" r="2.75" fill="url(#g2)"/><circle cx="268.2" cy="119.8" r="2.75" fill="url(#g2n)"/><circle cx="272.8" cy="137.3" r="2.75" fill="url(#g2n)"/><circle cx="263.5" cy="150.2" r="2.75" fill="url(#g2)"/><circle cx="266.4" cy="125.9" r="2.75" fill="url(#g2)"/><circle cx="271.9" cy="140.4" r="2.75" fill="url(#g2)"/><circle cx="265.5" cy="135.0" r="2.75" fill="url(#g2)"/><circle cx="263.8" cy="153.3" r="2.75" fill="url(#g2)"/><circle cx="269.9" cy="150.0" r="2.75" fill="url(#g2)"/><circle cx="273.5" cy="119.9" r="2.75" fill="url(#g2)"/><circle cx="272.7" cy="148.5" r="2.75" fill="url(#g2)"/><circle cx="273.5" cy="148.5" r="2.75" fill="url(#g2)"/><circle cx="256.7" cy="132.4" r="2.75" fill="url(#g2)"/><circle cx="276.5" cy="124.7" r="2.75" fill="url(#g2n)"/><circle cx="267.7" cy="137.3" r="2.75" fill="url(#g2)"/><circle cx="268.0" cy="147.1" r="2.75" fill="url(#g2)"/><circle cx="276.8" cy="125.5" r="2.75" fill="url(#g2)"/><circle cx="274.2" cy="131.7" r="2.75" fill="url(#g2)"/><circle cx="261.7" cy="129.7" r="2.75" fill="url(#g2)"/><circle cx="272.7" cy="128.2" r="2.75" fill="url(#g2)"/><circle cx="255.1" cy="126.8" r="2.75" fill="url(#g2)"/><circle cx="271.8" cy="144.7" r="2.75" fill="url(#g2)"/><circle cx="255.9" cy="139.2" r="2.75" fill="url(#g2)"/><circle cx="260.4" cy="148.5" r="2.75" fill="url(#g2)"/><circle cx="258.0" cy="148.1" r="2.75" fill="url(#g2n)"/><circle cx="269.0" cy="140.4" r="2.75" fill="url(#g2)"/><circle cx="273.5" cy="146.8" r="2.75" fill="url(#g2)"/><circle cx="257.7" cy="143.9" r="2.75" fill="url(#g2n)"/><circle cx="272.3" cy="135.7" r="2.75" fill="url(#g2)"/><circle cx="257.7" cy="139.9" r="2.75" fill="url(#g2n)"/><circle cx="258.0" cy="152.7" r="2.75" fill="url(#g2)"/><circle cx="255.8" cy="129.6" r="2.75" fill="url(#g2n)"/><circle cx="265.0" cy="122.9" r="2.75" fill="url(#g2)"/><circle cx="264.5" cy="128.4" r="2.75" fill="url(#g2)"/><circle cx="107.6" cy="48.8" r="2.75" fill="url(#g1e)"/><circle cx="124.2" cy="53.0" r="2.75" fill="url(#g1e)"/><circle cx="111.0" cy="48.4" r="2.75" fill="url(#g1e)"/><circle cx="121.2" cy="51.2" r="2.75" fill="url(#g1e)"/><circle cx="114.4" cy="48.9" r="2.75" fill="url(#g1e)"/><circle cx="97.5" cy="52.5" r="2.75" fill="url(#g1e)"/><circle cx="117.8" cy="49.8" r="2.75" fill="url(#g1e)"/><circle cx="104.2" cy="49.6" r="2.75" fill="url(#g1e)"/><circle cx="100.8" cy="50.8" r="2.75" fill="url(#g1e)"/><circle cx="270.5" cy="43.6" r="2.75" fill="url(#g2e)"/><circle cx="249.5" cy="43.2" r="2.75" fill="url(#g2e)"/><circle cx="263.5" cy="42.8" r="2.75" fill="url(#g2e)"/><circle cx="273.0" cy="45.0" r="2.75" fill="url(#g2e)"/><circle cx="267.0" cy="43.3" r="2.75" fill="url(#g2e)"/><circle cx="256.5" cy="42.9" r="2.75" fill="url(#g2e)"/><circle cx="246.0" cy="44.0" r="2.75" fill="url(#g2e)"/><circle cx="253.0" cy="43.6" r="2.75" fill="url(#g2e)"/><circle cx="260.0" cy="43.4" r="2.75" fill="url(#g2e)"/><circle cx="96.3" cy="164.1" r="2.85" fill="url(#g1)"/><circle cx="113.9" cy="164.1" r="2.85" fill="url(#g1)"/><circle cx="114.7" cy="187.1" r="2.85" fill="url(#g1)"/><circle cx="104.3" cy="182.2" r="2.85" fill="url(#g1)"/><circle cx="107.5" cy="179.0" r="2.85" fill="url(#g1)"/><circle cx="112.3" cy="232.9" r="2.85" fill="url(#g1)"/><circle cx="106.7" cy="235.3" r="2.85" fill="url(#g1)"/><circle cx="113.1" cy="206.4" r="2.85" fill="url(#g1)"/><circle cx="119.6" cy="192.7" r="2.85" fill="url(#g1)"/><circle cx="127.6" cy="164.9" r="2.85" fill="url(#g1)"/><circle cx="126.8" cy="184.6" r="2.85" fill="url(#g1)"/><circle cx="113.1" cy="204.7" r="2.85" fill="url(#g1)"/><circle cx="108.3" cy="187.1" r="2.85" fill="url(#g1)"/><circle cx="104.3" cy="163.3" r="2.85" fill="url(#g1)"/><circle cx="108.3" cy="197.5" r="2.85" fill="url(#g1)"/><circle cx="114.7" cy="166.5" r="2.85" fill="url(#g1)"/><circle cx="113.9" cy="172.1" r="2.85" fill="url(#g1)"/><circle cx="107.5" cy="172.9" r="2.85" fill="url(#g1)"/><circle cx="99.5" cy="228.5" r="2.85" fill="url(#g1)"/><circle cx="125.2" cy="202.3" r="2.85" fill="url(#g1)"/><circle cx="99.5" cy="191.1" r="2.85" fill="url(#g1)"/><circle cx="109.1" cy="168.9" r="2.85" fill="url(#g1)"/><circle cx="118.8" cy="229.6" r="2.85" fill="url(#g1)"/><circle cx="109.9" cy="190.3" r="2.85" fill="url(#g1)"/><circle cx="125.2" cy="171.3" r="2.85" fill="url(#g1)"/><circle cx="122.0" cy="161.7" r="2.85" fill="url(#g1)"/><circle cx="118.0" cy="227.5" r="2.85" fill="url(#g1)"/><circle cx="118.8" cy="162.5" r="2.85" fill="url(#g1)"/><circle cx="112.3" cy="194.3" r="2.85" fill="url(#g1)"/><circle cx="107.5" cy="206.4" r="2.85" fill="url(#g1)"/><circle cx="104.3" cy="226.5" r="2.85" fill="url(#g1)"/><circle cx="123.6" cy="200.8" r="2.85" fill="url(#g1)"/><circle cx="101.1" cy="200.7" r="2.85" fill="url(#g1)"/><circle cx="104.3" cy="233.7" r="2.85" fill="url(#g1)"/><circle cx="109.0" cy="175.5" r="2.85" fill="url(#g1)"/><circle cx="116.4" cy="181.4" r="2.85" fill="url(#g1)"/><circle cx="109.1" cy="202.4" r="2.85" fill="url(#g1)"/><circle cx="118.0" cy="204.0" r="2.85" fill="url(#g1)"/><circle cx="108.3" cy="233.7" r="2.85" fill="url(#g1)"/><circle cx="110.7" cy="182.2" r="2.85" fill="url(#g1)"/><circle cx="118.8" cy="175.5" r="2.85" fill="url(#g1)"/><circle cx="93.8" cy="169.7" r="2.85" fill="url(#g1)"/><circle cx="93.8" cy="229.1" r="2.85" fill="url(#g1)"/><circle cx="118.0" cy="169.7" r="2.85" fill="url(#g1)"/><circle cx="123.6" cy="233.7" r="2.85" fill="url(#g1)"/><circle cx="104.3" cy="199.1" r="2.85" fill="url(#g1)"/><circle cx="111.5" cy="223.3" r="2.85" fill="url(#g1)"/><circle cx="96.3" cy="233.7" r="2.85" fill="url(#g1)"/><circle cx="102.7" cy="187.1" r="2.85" fill="url(#g1)"/><circle cx="122.0" cy="199.1" r="2.85" fill="url(#g1)"/><circle cx="123.6" cy="184.6" r="2.85" fill="url(#g1)"/><circle cx="100.3" cy="234.5" r="2.85" fill="url(#g1)"/><circle cx="106.7" cy="201.5" r="2.85" fill="url(#g1)"/><circle cx="135.6" cy="173.7" r="2.85" fill="url(#g1)"/><circle cx="113.1" cy="216.1" r="2.85" fill="url(#g1)"/><circle cx="118.0" cy="205.6" r="2.85" fill="url(#g1)"/><circle cx="105.1" cy="191.1" r="2.85" fill="url(#g1)"/><circle cx="276.0" cy="175.7" r="2.85" fill="url(#g2)"/><circle cx="278.1" cy="215.4" r="2.85" fill="url(#g2)"/><circle cx="282.7" cy="135.5" r="2.85" fill="url(#g2)"/><circle cx="237.6" cy="82.0" r="2.85" fill="url(#g2)"/><circle cx="267.8" cy="218.6" r="2.85" fill="url(#g2)"/><circle cx="271.4" cy="214.7" r="2.85" fill="url(#g2)"/><circle cx="276.0" cy="168.2" r="2.85" fill="url(#g2)"/><circle cx="265.2" cy="198.3" r="2.85" fill="url(#g2)"/><circle cx="263.4" cy="199.4" r="2.85" fill="url(#g2)"/><circle cx="243.4" cy="125.6" r="2.85" fill="url(#g2)"/><circle cx="260.2" cy="167.5" r="2.85" fill="url(#g2)"/><circle cx="282.4" cy="89.4" r="2.85" fill="url(#g2)"/><circle cx="285.2" cy="91.8" r="2.85" fill="url(#g2)"/><circle cx="261.5" cy="209.4" r="2.85" fill="url(#g2)"/><circle cx="293.8" cy="52.5" r="2.85" fill="url(#g2)"/><circle cx="259.5" cy="194.2" r="2.85" fill="url(#g2)"/><circle cx="263.2" cy="172.7" r="2.85" fill="url(#g2)"/><circle cx="231.7" cy="55.7" r="2.85" fill="url(#g2)"/><circle cx="280.2" cy="136.3" r="2.85" fill="url(#g2)"/><circle cx="267.0" cy="201.7" r="2.85" fill="url(#g2)"/><circle cx="263.8" cy="214.2" r="2.85" fill="url(#g2)"/><circle cx="259.2" cy="219.0" r="2.85" fill="url(#g2)"/><circle cx="245.0" cy="117.5" r="2.85" fill="url(#g2)"/><circle cx="270.7" cy="200.9" r="2.85" fill="url(#g2)"/><circle cx="259.5" cy="158.5" r="2.85" fill="url(#g2)"/><circle cx="281.9" cy="182.4" r="2.85" fill="url(#g2)"/><circle cx="258.7" cy="171.2" r="2.85" fill="url(#g2)"/><circle cx="274.4" cy="191.2" r="2.85" fill="url(#g2)"/><circle cx="282.7" cy="166.0" r="2.85" fill="url(#g2)"/><circle cx="265.6" cy="217.6" r="2.85" fill="url(#g2)"/><circle cx="255.7" cy="168.2" r="2.85" fill="url(#g2)"/><circle cx="244.2" cy="121.5" r="2.85" fill="url(#g2)"/><circle cx="260.3" cy="197.6" r="2.85" fill="url(#g2)"/><circle cx="274.4" cy="179.4" r="2.85" fill="url(#g2)"/><circle cx="263.3" cy="203.5" r="2.85" fill="url(#g2)"/><circle cx="287.3" cy="93.6" r="2.85" fill="url(#g2)"/><circle cx="272.9" cy="210.9" r="2.85" fill="url(#g2)"/><circle cx="270.7" cy="166.7" r="2.85" fill="url(#g2)"/><circle cx="271.4" cy="173.4" r="2.85" fill="url(#g2)"/><circle cx="255.0" cy="174.2" r="2.85" fill="url(#g2)"/><circle cx="254.2" cy="156.2" r="2.85" fill="url(#g2)"/><circle cx="282.7" cy="190.8" r="2.85" fill="url(#g2)"/><circle cx="255.5" cy="201.6" r="2.85" fill="url(#g2)"/><circle cx="268.7" cy="206.1" r="2.85" fill="url(#g2)"/><circle cx="246.2" cy="107.4" r="2.85" fill="url(#g2)"/><circle cx="249.3" cy="198.1" r="2.85" fill="url(#g2)"/><circle cx="267.0" cy="166.0" r="2.85" fill="url(#g2)"/><circle cx="243.5" cy="91.3" r="2.85" fill="url(#g2)"/><circle cx="246.9" cy="94.6" r="2.85" fill="url(#g2)"/><circle cx="243.7" cy="215.4" r="2.85" fill="url(#g2)"/><circle cx="235.9" cy="66.0" r="2.85" fill="url(#g2)"/><circle cx="241.0" cy="86.5" r="2.85" fill="url(#g2)"/><circle cx="255.2" cy="197.2" r="2.85" fill="url(#g2)"/><circle cx="272.9" cy="217.9" r="2.85" fill="url(#g2)"/><circle cx="264.7" cy="158.5" r="2.85" fill="url(#g2)"/><circle cx="273.7" cy="161.5" r="2.85" fill="url(#g2)"/><circle cx="279.4" cy="140.4" r="2.85" fill="url(#g2)"/><g stroke="#000" stroke-width="1.25" fill="none"><polyline points="35.5,5.7 35.5,250.8 340.6,250.8"/><line x1="35.5" x2="40.2" y1="250.8" y2="250.8"/><line x1="35.5" x2="40.2" y1="209.9" y2="209.9"/><line x1="35.5" x2="40.2" y1="169.1" y2="169.1"/><line x1="35.5" x2="40.2" y1="128.2" y2="128.2"/><line x1="35.5" x2="40.2" y1="87.4" y2="87.4"/><line x1="35.5" x2="40.2" y1="46.6" y2="46.6"/><line x1="35.5" x2="40.2" y1="5.7" y2="5.7"/><line x1="35.5" x2="38.2" y1="230.4" y2="230.4"/><line x1="35.5" x2="38.2" y1="189.5" y2="189.5"/><line x1="35.5" x2="38.2" y1="148.7" y2="148.7"/><line x1="35.5" x2="38.2" y1="107.8" y2="107.8"/><line x1="35.5" x2="38.2" y1="67.0" y2="67.0"/><line x1="35.5" x2="38.2" y1="26.1" y2="26.1"/><line x1="40" x2="40" y1="5.8" y2="5.8"/><line x1="112" x2="112" y1="246.2" y2="250.8"/><line x1="187.8" x2="187.8" y1="246.2" y2="250.8"/><line x1="264" x2="264" y1="246.2" y2="250.8"/><line x1="340.1" x2="340.1" y1="246.2" y2="250.8"/></g><g transform="rotate(0.03 171 133)"><g font-family="Liberation Serif, serif" font-size="11" fill="#000" stroke="#000" stroke-width="0.15" text-anchor="end"><text x="30" y="254.4">40</text><text x="30" y="213.5">50</text><text x="30" y="172.7">60</text><text x="30" y="131.8">70</text><text x="30" y="91.0">80</text><text x="30" y="50.2">90</text><text x="30" y="9.3">100</text></g><g font-family="Liberation Serif, serif" font-size="10.8" fill="#000" stroke="#000" stroke-width="0.12" text-anchor="middle"><text x="112.8" y="264.9">YOLOv9-YX</text><text x="264.5" y="264.2">YOLOv9-QX</text></g><text transform="translate(9.4,128.6) rotate(-90)" font-family="Liberation Serif, serif" font-size="12.7" stroke="#000" stroke-width="0.15" text-anchor="middle" fill="#000">AP(%)</text><g font-family="Liberation Serif, serif" font-size="7.1" fill="#000"><text x="141" y="53.1">89.1216</text><text x="141.3" y="130.6">70.1339</text><text x="165.5" y="74.4">83.8579</text><text x="165.5" y="81.1">82.1883</text><text x="165.5" y="96.5">78.3246</text><text x="293.5" y="46.0">90.8899</text><text x="293.7" y="117.2">73.3471</text><text x="318" y="63.1">86.4465</text><text x="318" y="68.7">85.0822</text><text x="318" y="84.9">81.1803</text></g></g>
</svg>
</body></html>
